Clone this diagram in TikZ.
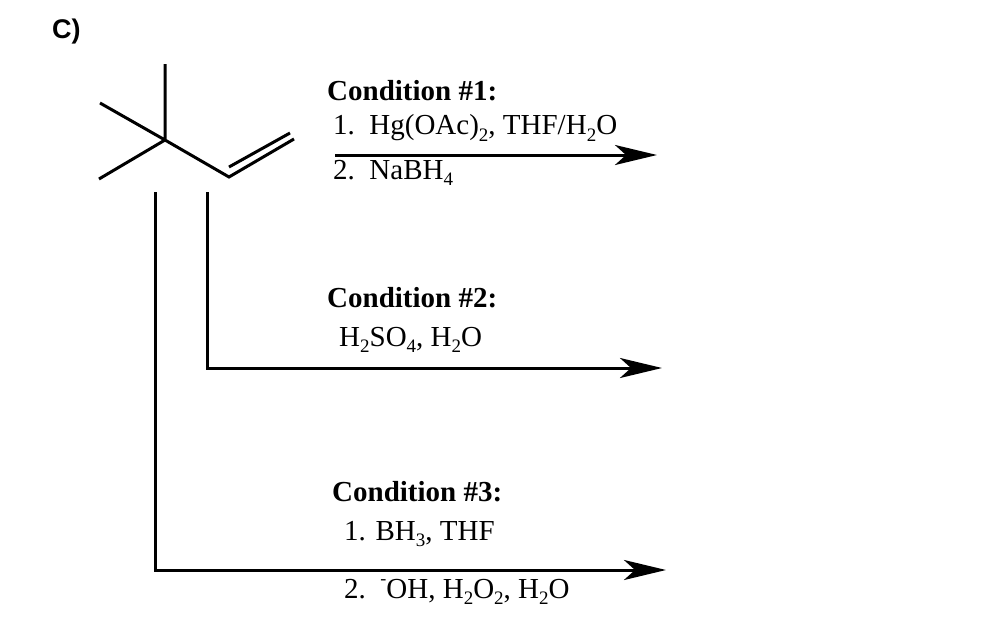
\documentclass[tikz,border=0pt]{standalone}
\usepackage{fontspec}
\setmainfont{Liberation Serif}
\newfontfamily\arialfont{Liberation Sans}
\usetikzlibrary{arrows.meta}
\newcommand{\sbs}[1]{\raisebox{-0.22em}{\fontsize{19}{19}\selectfont #1}}
\newcommand{\sps}[1]{\raisebox{0.5em}{\fontsize{18}{18}\selectfont #1}}
\begin{document}
\begin{tikzpicture}[x=1pt,y=-1pt,
  bond/.style={line width=3pt},
  rx/.style={line width=3pt,-{Stealth[length=42pt,width=20pt,inset=11pt]}},
  lbl/.style={anchor=west,font=\fontsize{29}{31}\selectfont,inner sep=0pt},
  cond/.style={lbl,font=\fontsize{29}{31}\selectfont\bfseries}]
\useasboundingbox (0,0) rectangle (990,632);
\node[lbl,font=\fontsize{27}{29}\selectfont\arialfont\bfseries] (c) at (52,32) {C)};
% molecule
\coordinate (q) at (165,140);
\coordinate (t) at (165,64);
\coordinate (lu) at (100,103);
\coordinate (ll) at (99,179);
\coordinate (r) at (229,177);
\coordinate (v) at (294,139);
\coordinate (ri) at (229,167);
\coordinate (vi) at (290,133);
\draw[bond] (t)--(q) (lu)--(q) (ll)--(q) (q)--(r)--(v);
\draw[bond] (ri)--(vi);
% arrow 1
\coordinate (a1s) at (335,155);
\coordinate (a1e) at (657,155);
\draw[rx] (a1s)--(a1e);
\node[cond] (c1) at (327,91) {Condition \#1:};
\node[lbl] (c1a) at (333,128) {1.\ \ Hg(OAc)\sbs{2}, THF/H\sbs{2}O};
\node[lbl] (c1b) at (333,173) {2.\ \ NaBH\sbs{4}};
% arrow 2
\coordinate (a2s) at (207,192);
\coordinate (a2c) at (207,368);
\coordinate (a2e) at (662,368);
\draw[rx] (a2s)--(a2c)--(a2e);
\node[cond] (c2) at (327,298) {Condition \#2:};
\node[lbl] (c2a) at (339,340) {H\sbs{2}SO\sbs{4}, H\sbs{2}O};
% arrow 3
\coordinate (a3s) at (155,192);
\coordinate (a3c) at (155,570);
\coordinate (a3e) at (666,570);
\draw[rx] (a3s)--(a3c)--(a3e);
\node[cond] (c3) at (332,492) {Condition \#3:};
\node[lbl] (c3a) at (344,534) {1. BH\sbs{3}, THF};
\node[lbl] (c3b) at (344,592) {2.\ \ \sps{-}OH, H\sbs{2}O\sbs{2}, H\sbs{2}O};
\end{tikzpicture}
\end{document}
